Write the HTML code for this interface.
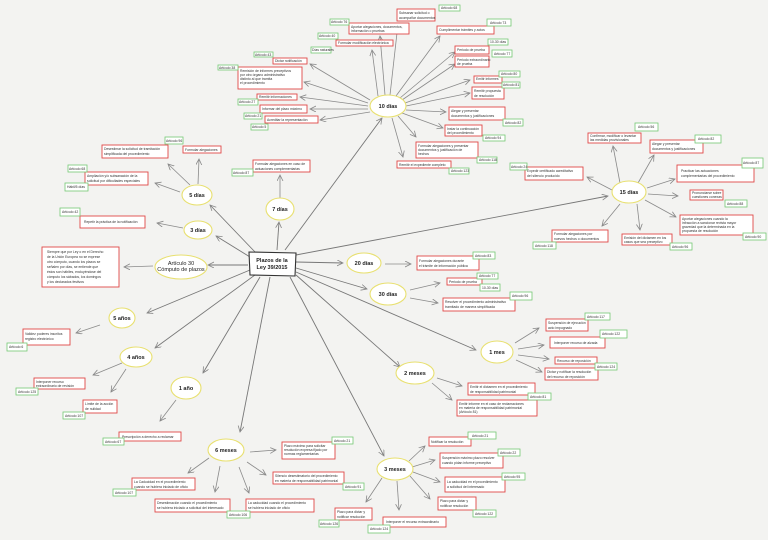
<!DOCTYPE html>
<html><head><meta charset="utf-8"><style>
html,body{margin:0;padding:0;background:#f3f3f1;}
svg{display:block}
.r{fill:#fff;stroke:#e04848;stroke-width:0.9}
.g{fill:#fff;stroke:#74c774;stroke-width:0.8}
.t{font-family:"Liberation Sans",sans-serif;font-size:3.4px;fill:#333}
.h{fill:#fff;stroke:#e8e070;stroke-width:1.1}
.ht{font-family:"Liberation Sans",sans-serif;font-size:5.5px;font-weight:bold;fill:#222;text-anchor:middle}
.a{stroke:#8a8a8a;stroke-width:0.8;fill:none;marker-end:url(#m)}
.b{stroke:#777;stroke-width:0.9;fill:none;marker-end:url(#m)}
</style></head><body>
<svg width="768" height="540" viewBox="0 0 768 540" xmlns="http://www.w3.org/2000/svg">
<defs><marker id="m" markerWidth="8" markerHeight="8" refX="6" refY="3" orient="auto" markerUnits="userSpaceOnUse"><path d="M0,0 L6,3 L0,6" fill="none" stroke="#888" stroke-width="0.8"/></marker></defs>
<rect width="768" height="540" fill="#f3f3f1"/>

<!-- central arrows -->
<g class="b">
<line x1="285" y1="250" x2="382" y2="118"/>
<line x1="296" y1="255" x2="608" y2="196"/>
<line x1="277" y1="250" x2="279" y2="222"/>
<line x1="255" y1="252" x2="210" y2="205"/>
<line x1="250" y1="257" x2="216" y2="236"/>
<line x1="248" y1="265" x2="208" y2="265"/>
<line x1="296" y1="262" x2="343" y2="263"/>
<line x1="296" y1="268" x2="367" y2="289"/>
<line x1="296" y1="272" x2="476" y2="350"/>
<line x1="296" y1="275" x2="400" y2="367"/>
<line x1="290" y1="277" x2="384" y2="456"/>
<line x1="270" y1="277" x2="240" y2="432"/>
<line x1="260" y1="277" x2="203" y2="373"/>
<line x1="255" y1="275" x2="155" y2="348"/>
<line x1="250" y1="270" x2="147" y2="313"/>
</g>

<!-- hub arrows -->
<g class="a">
<!-- 10 dias -->
<line x1="390" y1="95" x2="398" y2="24"/><line x1="385" y1="95" x2="380" y2="36"/>
<line x1="396" y1="96" x2="440" y2="36"/><line x1="378" y1="96" x2="372" y2="50"/>
<line x1="400" y1="98" x2="455" y2="52"/><line x1="402" y1="100" x2="455" y2="64"/>
<line x1="405" y1="103" x2="470" y2="80"/><line x1="406" y1="106" x2="470" y2="93"/>
<line x1="406" y1="110" x2="446" y2="112"/><line x1="402" y1="113" x2="443" y2="128"/>
<line x1="398" y1="116" x2="416" y2="137"/><line x1="392" y1="118" x2="403" y2="157"/>
<line x1="370" y1="100" x2="310" y2="64"/><line x1="368" y1="103" x2="304" y2="82"/>
<line x1="368" y1="106" x2="300" y2="97"/><line x1="368" y1="109" x2="310" y2="109"/>
<line x1="370" y1="112" x2="320" y2="120"/>
<!-- 15 dias -->
<line x1="620" y1="183" x2="613" y2="146"/><line x1="638" y1="183" x2="654" y2="155"/>
<line x1="612" y1="190" x2="587" y2="177"/><line x1="647" y1="188" x2="675" y2="179"/>
<line x1="648" y1="194" x2="678" y2="196"/><line x1="645" y1="200" x2="676" y2="217"/>
<line x1="620" y1="204" x2="602" y2="226"/><line x1="637" y1="204" x2="640" y2="230"/>
<!-- 7, 5, 3 -->
<line x1="280" y1="198" x2="280" y2="175"/>
<line x1="198" y1="184" x2="199" y2="159"/><line x1="190" y1="185" x2="168" y2="164"/>
<line x1="180" y1="192" x2="155" y2="183"/>
<line x1="183" y1="228" x2="157" y2="223"/>
<line x1="153" y1="266" x2="124" y2="267"/>
<!-- 20,30 -->
<line x1="385" y1="264" x2="411" y2="264"/>
<line x1="410" y1="290" x2="440" y2="283"/><line x1="410" y1="298" x2="438" y2="303"/>
<!-- 1 mes -->
<line x1="515" y1="343" x2="539" y2="328"/><line x1="518" y1="349" x2="544" y2="345"/>
<line x1="518" y1="355" x2="549" y2="359"/><line x1="516" y1="360" x2="542" y2="372"/>
<!-- 2 meses -->
<line x1="437" y1="378" x2="462" y2="386"/><line x1="432" y1="383" x2="452" y2="400"/>
<!-- 3 meses -->
<line x1="409" y1="461" x2="425" y2="446"/><line x1="412" y1="467" x2="435" y2="460"/>
<line x1="413" y1="472" x2="440" y2="482"/><line x1="410" y1="476" x2="430" y2="499"/>
<line x1="397" y1="481" x2="399" y2="510"/><line x1="382" y1="478" x2="366" y2="502"/>
<!-- 6 meses -->
<line x1="250" y1="452" x2="276" y2="450"/><line x1="247" y1="462" x2="266" y2="475"/>
<line x1="209" y1="458" x2="188" y2="473"/><line x1="220" y1="466" x2="215" y2="492"/>
<line x1="239" y1="467" x2="249" y2="493"/>
<!-- 1 año, 4 años, 5 años -->
<line x1="176" y1="400" x2="160" y2="421"/>
<line x1="122" y1="363" x2="93" y2="375"/><line x1="126" y1="369" x2="111" y2="392"/>
<line x1="100" y1="325" x2="76" y2="333"/>
</g>

<!-- central -->
<path d="M249,252 L296,253 L295,276 L250,275 Z" fill="#fff" stroke="#333" stroke-width="1.1"/>
<text class="ht" x="272" y="262">Plazos de la</text><text class="ht" x="272" y="269">Ley 39/2015</text>

<!-- hubs -->
<ellipse class="h" cx="388" cy="106" rx="18" ry="11"/><text class="ht" x="388" y="108">10 días</text>
<ellipse class="h" cx="629" cy="192" rx="17" ry="11"/><text class="ht" x="629" y="194">15 días</text>
<ellipse class="h" cx="280" cy="209" rx="14" ry="11"/><text class="ht" x="280" y="211">7 días</text>
<ellipse class="h" cx="197" cy="195" rx="15" ry="10"/><text class="ht" x="197" y="197">5 días</text>
<ellipse class="h" cx="198" cy="230" rx="14" ry="9"/><text class="ht" x="198" y="232">3 días</text>
<ellipse class="h" cx="181" cy="267" rx="26" ry="12"/><text class="ht" x="181" y="265" style="font-weight:normal">Artículo 30</text><text class="ht" x="181" y="271" style="font-weight:normal">Cómputo de plazos</text>
<ellipse class="h" cx="364" cy="263" rx="17" ry="10"/><text class="ht" x="364" y="265">20 días</text>
<ellipse class="h" cx="388" cy="294" rx="18" ry="11"/><text class="ht" x="388" y="296">30 días</text>
<ellipse class="h" cx="497" cy="352" rx="16" ry="11"/><text class="ht" x="497" y="354">1 mes</text>
<ellipse class="h" cx="415" cy="373" rx="19" ry="11"/><text class="ht" x="415" y="375">2 meses</text>
<ellipse class="h" cx="395" cy="469" rx="18" ry="11"/><text class="ht" x="395" y="471">3 meses</text>
<ellipse class="h" cx="226" cy="450" rx="18" ry="11"/><text class="ht" x="226" y="452">6 meses</text>
<ellipse class="h" cx="186" cy="388" rx="15" ry="11"/><text class="ht" x="186" y="390">1 año</text>
<ellipse class="h" cx="136" cy="357" rx="16" ry="10"/><text class="ht" x="136" y="359">4 años</text>
<ellipse class="h" cx="122" cy="318" rx="13" ry="10"/><text class="ht" x="122" y="320">5 años</text>

<!-- leaves: red -->
<g>
<rect class="r" x="397" y="9" width="38" height="12"/><text class="t" x="399" y="14">Subsanar solicitud o</text><text class="t" x="399" y="19">acompañar documentos</text>
<rect class="r" x="349" y="23" width="60" height="11"/><text class="t" x="351" y="28">Aportar alegaciones, documentos,</text><text class="t" x="351" y="32">información o pruebas</text>
<rect class="r" x="437" y="26" width="57" height="8"/><text class="t" x="439" y="31">Cumplimentar trámites y actos</text>
<rect class="r" x="336" y="40" width="57" height="6"/><text class="t" x="338" y="44">Formular modificación electrónica</text>
<rect class="r" x="455" y="46" width="34" height="8"/><text class="t" x="457" y="51">Periodo de prueba</text>
<rect class="r" x="455" y="56" width="34" height="11"/><text class="t" x="457" y="61">Periodo extraordinario</text><text class="t" x="457" y="65">de prueba</text>
<rect class="r" x="474" y="76" width="28" height="7"/><text class="t" x="476" y="80">Emitir informes</text>
<rect class="r" x="472" y="87" width="32" height="12"/><text class="t" x="474" y="92">Remitir propuesta</text><text class="t" x="474" y="97">de resolución</text>
<rect class="r" x="449" y="107" width="56" height="13"/><text class="t" x="451" y="112">Alegar y presentar</text><text class="t" x="451" y="117">documentos y justificaciones</text>
<rect class="r" x="445" y="125" width="37" height="11"/><text class="t" x="447" y="130">Instar la continuación</text><text class="t" x="447" y="134">del procedimiento</text>
<rect class="r" x="416" y="142" width="62" height="16"/><text class="t" x="418" y="147">Formular alegaciones y presentar</text><text class="t" x="418" y="151">documentos y justificación de</text><text class="t" x="418" y="155">hechos</text>
<rect class="r" x="397" y="161" width="54" height="7"/><text class="t" x="399" y="166">Remitir el expediente completo</text>
<rect class="r" x="273" y="58" width="34" height="6"/><text class="t" x="275" y="62">Dictar notificación</text>
<rect class="r" x="238" y="67" width="64" height="22"/><text class="t" x="240" y="72">Remisión de informes preceptivos</text><text class="t" x="240" y="76">por otro órgano administrativo</text><text class="t" x="240" y="80">distinto al que tramita</text><text class="t" x="240" y="84">el procedimiento</text>
<rect class="r" x="257" y="94" width="40" height="6"/><text class="t" x="259" y="98">Remitir informaciones</text>
<rect class="r" x="260" y="105" width="47" height="8"/><text class="t" x="262" y="110">Informar del plazo máximo</text>
<rect class="r" x="265" y="116" width="53" height="7"/><text class="t" x="267" y="121">Acreditar la representación</text>

<rect class="r" x="183" y="146" width="38" height="7"/><text class="t" x="185" y="151">Formular alegaciones</text>
<rect class="r" x="102" y="145" width="66" height="13"/><text class="t" x="104" y="150">Desestimar la solicitud de tramitación</text><text class="t" x="104" y="155">simplificada del procedimiento</text>
<rect class="r" x="85" y="172" width="63" height="13"/><text class="t" x="87" y="177">Ampliación y/o subsanación de la</text><text class="t" x="87" y="182">solicitud por dificultades especiales</text>
<rect class="r" x="253" y="160" width="57" height="12"/><text class="t" x="255" y="165">Formular alegaciones en caso de</text><text class="t" x="255" y="170">actuaciones complementarias</text>
<rect class="r" x="80" y="216" width="65" height="12"/><text class="t" x="84" y="223">Repetir la práctica de la notificación</text>
<rect class="r" x="42" y="247" width="77" height="40" stroke-width="1.2"/>
<text class="t" x="47" y="253">Siempre que por Ley o en el Derecho</text><text class="t" x="47" y="258">de la Unión Europea no se exprese</text><text class="t" x="47" y="263">otro cómputo, cuando los plazos se</text><text class="t" x="47" y="268">señalen por días, se entiende que</text><text class="t" x="47" y="273">éstos son hábiles, excluyéndose del</text><text class="t" x="47" y="278">cómputo los sábados, los domingos</text><text class="t" x="47" y="283">y los declarados festivos</text>

<rect class="r" x="588" y="133" width="53" height="10"/><text class="t" x="590" y="137">Confirmar, modificar o levantar</text><text class="t" x="590" y="141">las medidas provisionales</text>
<rect class="r" x="650" y="140" width="53" height="13"/><text class="t" x="652" y="145">Alegar y presentar</text><text class="t" x="652" y="150">documentos y justificaciones</text>
<rect class="r" x="525" y="167" width="58" height="13"/><text class="t" x="527" y="172">Expedir certificado acreditativo</text><text class="t" x="527" y="177">del silencio producido</text>
<rect class="r" x="677" y="165" width="77" height="17"/><text class="t" x="681" y="172">Practicar las actuaciones</text><text class="t" x="681" y="177">complementarias del procedimiento</text>
<rect class="r" x="690" y="190" width="33" height="10"/><text class="t" x="692" y="194">Pronunciarse sobre</text><text class="t" x="692" y="198">cuestiones conexas</text>
<rect class="r" x="680" y="215" width="73" height="20"/><text class="t" x="682" y="220">Aportar alegaciones cuando la</text><text class="t" x="682" y="224">infracción a sancionar revista mayor</text><text class="t" x="682" y="228">gravedad que la determinada en la</text><text class="t" x="682" y="232">propuesta de resolución</text>
<rect class="r" x="552" y="230" width="56" height="12"/><text class="t" x="554" y="235">Formular alegaciones por</text><text class="t" x="554" y="240">nuevos hechos o documentos</text>
<rect class="r" x="622" y="234" width="50" height="11"/><text class="t" x="624" y="239">Emisión del dictamen en los</text><text class="t" x="624" y="243">casos que sea preceptivo</text>

<rect class="r" x="417" y="256" width="62" height="14"/><text class="t" x="419" y="262">Formular alegaciones durante</text><text class="t" x="419" y="267">el trámite de información pública</text>
<rect class="r" x="447" y="278" width="35" height="7"/><text class="t" x="449" y="283">Periodo de prueba</text>
<rect class="r" x="443" y="298" width="72" height="13"/><text class="t" x="445" y="303">Resolver el procedimiento administrativo</text><text class="t" x="445" y="308">tramitado de manera simplificada</text>
<rect class="r" x="546" y="319" width="42" height="12"/><text class="t" x="548" y="324">Suspensión de ejecución</text><text class="t" x="548" y="329">acto impugnado</text>
<rect class="r" x="550" y="337" width="55" height="11"/><text class="t" x="554" y="344">Interponer recurso de alzada</text>
<rect class="r" x="555" y="357" width="42" height="7"/><text class="t" x="557" y="362">Recurso de reposición</text>
<rect class="r" x="545" y="368" width="53" height="12"/><text class="t" x="547" y="373">Dictar y notificar la resolución</text><text class="t" x="547" y="378">del recurso de reposición</text>
<rect class="r" x="468" y="383" width="67" height="12"/><text class="t" x="470" y="388">Emitir el dictamen en el procedimiento</text><text class="t" x="470" y="393">de responsabilidad patrimonial</text>
<rect class="r" x="457" y="400" width="80" height="16"/><text class="t" x="459" y="405">Emitir informe en el caso de reclamaciones</text><text class="t" x="459" y="409">en materia de responsabilidad patrimonial</text><text class="t" x="459" y="413">(Artículo 81)</text>
<rect class="r" x="429" y="437" width="42" height="9"/><text class="t" x="431" y="443">Notificar la resolución</text>
<rect class="r" x="440" y="453" width="63" height="15"/><text class="t" x="442" y="459">Suspensión máximo plazo resolver</text><text class="t" x="442" y="464">cuando pidan informe preceptivo</text>
<rect class="r" x="445" y="477" width="60" height="15"/><text class="t" x="447" y="483">La caducidad en el procedimiento</text><text class="t" x="447" y="488">a solicitud del interesado</text>
<rect class="r" x="438" y="497" width="38" height="13"/><text class="t" x="440" y="502">Plazo para dictar y</text><text class="t" x="440" y="507">notificar resolución</text>
<rect class="r" x="383" y="517" width="63" height="10"/><text class="t" x="386" y="523">Interponer el recurso extraordinario</text>
<rect class="r" x="335" y="508" width="37" height="12"/><text class="t" x="337" y="513">Plazo para dictar y</text><text class="t" x="337" y="518">notificar resolución</text>
<rect class="r" x="282" y="442" width="53" height="17"/><text class="t" x="284" y="447">Plazo máximo para solicitar</text><text class="t" x="284" y="451">resolución expresa fijado por</text><text class="t" x="284" y="455">normas reglamentarias</text>
<rect class="r" x="273" y="472" width="71" height="12"/><text class="t" x="275" y="477">Silencio desestimatorio del procedimiento</text><text class="t" x="275" y="482">en materia de responsabilidad patrimonial</text>
<rect class="r" x="132" y="478" width="63" height="12"/><text class="t" x="134" y="483">La Caducidad en el procedimiento</text><text class="t" x="134" y="488">cuando se hubiera iniciado de oficio</text>
<rect class="r" x="155" y="499" width="75" height="13"/><text class="t" x="157" y="504">Desestimación cuando el procedimiento</text><text class="t" x="157" y="509">se hubiera iniciado a solicitud del interesado</text>
<rect class="r" x="246" y="499" width="68" height="13"/><text class="t" x="248" y="504">La caducidad cuando el procedimiento</text><text class="t" x="248" y="509">se hubiera iniciado de oficio</text>
<rect class="r" x="119" y="432" width="62" height="9"/><text class="t" x="122" y="438">Prescripción a derecho a reclamar</text>
<rect class="r" x="34" y="378" width="51" height="11"/><text class="t" x="36" y="383">Interponer recurso</text><text class="t" x="36" y="387">extraordinario de revisión</text>
<rect class="r" x="83" y="400" width="34" height="13"/><text class="t" x="85" y="405">Límite de la acción</text><text class="t" x="85" y="410">de nulidad</text>
<rect class="r" x="23" y="329" width="47" height="16"/><text class="t" x="25" y="335">Validez poderes inscritos</text><text class="t" x="25" y="340">registro electrónico</text>
</g>

<!-- green -->
<g>
<rect class="g" x="439" y="5" width="21" height="6"/><text class="t" x="441" y="9">Artículo 68</text>
<rect class="g" x="330" y="19" width="19" height="6"/><text class="t" x="331" y="23">Artículo 76</text>
<rect class="g" x="487" y="19" width="24" height="7"/><text class="t" x="490" y="24">Artículo 73</text>
<rect class="g" x="318" y="33" width="20" height="6"/><text class="t" x="319" y="37">Artículo 40</text>
<rect class="g" x="311" y="47" width="20" height="6"/><text class="t" x="312" y="51">Días naturales</text>
<rect class="g" x="488" y="39" width="20" height="6"/><text class="t" x="490" y="43">10-30 días</text>
<rect class="g" x="492" y="50" width="20" height="7"/><text class="t" x="494" y="55">Artículo 77</text>
<rect class="g" x="499" y="71" width="21" height="6"/><text class="t" x="501" y="75">Artículo 80</text>
<rect class="g" x="502" y="82" width="18" height="6"/><text class="t" x="503" y="86">Artículo 81</text>
<rect class="g" x="503" y="119" width="20" height="7"/><text class="t" x="505" y="124">Artículo 82</text>
<rect class="g" x="483" y="135" width="22" height="6"/><text class="t" x="485" y="139">Artículo 94</text>
<rect class="g" x="477" y="157" width="20" height="6"/><text class="t" x="479" y="161">Artículo 118</text>
<rect class="g" x="449" y="168" width="20" height="6"/><text class="t" x="451" y="172">Artículo 123</text>
<rect class="g" x="254" y="52" width="19" height="5"/><text class="t" x="255" y="56">Artículo 43</text>
<rect class="g" x="218" y="65" width="20" height="5"/><text class="t" x="219" y="69">Artículo 38</text>
<rect class="g" x="238" y="99" width="20" height="6"/><text class="t" x="239" y="103">Artículo 27</text>
<rect class="g" x="244" y="113" width="18" height="6"/><text class="t" x="245" y="117">Artículo 21</text>
<rect class="g" x="251" y="124" width="17" height="6"/><text class="t" x="252" y="128">Artículo 5</text>
<rect class="g" x="165" y="137" width="18" height="7"/><text class="t" x="166" y="142">Artículo 96</text>
<rect class="g" x="68" y="165" width="19" height="7"/><text class="t" x="69" y="170">Artículo 68</text>
<rect class="g" x="65" y="183" width="23" height="8"/><text class="t" x="67" y="188">Hábil/5 días</text>
<rect class="g" x="232" y="169" width="21" height="7"/><text class="t" x="233" y="174">Artículo 87</text>
<rect class="g" x="60" y="208" width="20" height="8"/><text class="t" x="62" y="213">Artículo 42</text>
<rect class="g" x="635" y="123" width="23" height="8"/><text class="t" x="638" y="128">Artículo 56</text>
<rect class="g" x="695" y="135" width="26" height="8"/><text class="t" x="698" y="140">Artículo 82</text>
<rect class="g" x="510" y="163" width="17" height="7"/><text class="t" x="511" y="168">Artículo 24</text>
<rect class="g" x="742" y="158" width="21" height="10"/><text class="t" x="743" y="164">Artículo 87</text>
<rect class="g" x="725" y="200" width="22" height="7"/><text class="t" x="727" y="205">Artículo 88</text>
<rect class="g" x="743" y="233" width="23" height="7"/><text class="t" x="745" y="238">Artículo 90</text>
<rect class="g" x="533" y="242" width="23" height="7"/><text class="t" x="535" y="247">Artículo 118</text>
<rect class="g" x="670" y="243" width="22" height="7"/><text class="t" x="672" y="248">Artículo 96</text>
<rect class="g" x="473" y="252" width="22" height="7"/><text class="t" x="475" y="257">Artículo 83</text>
<rect class="g" x="477" y="273" width="21" height="6"/><text class="t" x="479" y="277">Artículo 77</text>
<rect class="g" x="480" y="284" width="20" height="7"/><text class="t" x="482" y="289">10-30 días</text>
<rect class="g" x="510" y="292" width="22" height="8"/><text class="t" x="512" y="297">Artículo 96</text>
<rect class="g" x="585" y="313" width="25" height="7"/><text class="t" x="587" y="318">Artículo 117</text>
<rect class="g" x="600" y="330" width="27" height="8"/><text class="t" x="602" y="335">Artículo 122</text>
<rect class="g" x="595" y="363" width="22" height="7"/><text class="t" x="597" y="368">Artículo 124</text>
<rect class="g" x="528" y="393" width="23" height="7"/><text class="t" x="530" y="398">Artículo 81</text>
<rect class="g" x="468" y="432" width="28" height="7"/><text class="t" x="472" y="437">Artículo 21</text>
<rect class="g" x="498" y="449" width="22" height="7"/><text class="t" x="500" y="454">Artículo 22</text>
<rect class="g" x="502" y="473" width="23" height="7"/><text class="t" x="504" y="478">Artículo 95</text>
<rect class="g" x="473" y="510" width="23" height="7"/><text class="t" x="475" y="515">Artículo 122</text>
<rect class="g" x="368" y="525" width="22" height="8"/><text class="t" x="370" y="530">Artículo 124</text>
<rect class="g" x="319" y="520" width="20" height="7"/><text class="t" x="320" y="525">Artículo 126</text>
<rect class="g" x="332" y="437" width="21" height="7"/><text class="t" x="334" y="442">Artículo 21</text>
<rect class="g" x="343" y="483" width="21" height="7"/><text class="t" x="345" y="488">Artículo 91</text>
<rect class="g" x="113" y="489" width="23" height="7"/><text class="t" x="115" y="494">Artículo 107</text>
<rect class="g" x="227" y="511" width="23" height="7"/><text class="t" x="229" y="516">Artículo 106</text>
<rect class="g" x="103" y="438" width="21" height="7"/><text class="t" x="105" y="443">Artículo 67</text>
<rect class="g" x="16" y="388" width="22" height="7"/><text class="t" x="18" y="393">Artículo 125</text>
<rect class="g" x="63" y="412" width="22" height="7"/><text class="t" x="65" y="417">Artículo 107</text>
<rect class="g" x="7" y="343" width="20" height="8"/><text class="t" x="9" y="348">Artículo 6</text>
</g>
</svg>
</body></html>
